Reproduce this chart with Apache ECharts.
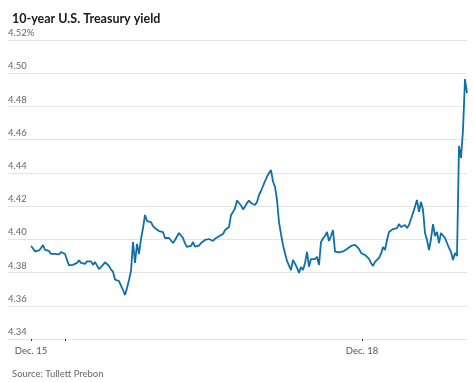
<!DOCTYPE html>
<html><head><meta charset="utf-8">
<script src="https://cdn.jsdelivr.net/npm/echarts@6/dist/echarts.min.js"></script>
<style>html,body{margin:0;padding:0;background:#fff}#c{width:474px;height:382px}</style>
</head><body><div id="c"></div>
<script>
const titleText = '10-year U.S. Treasury yield';
const sourceText = 'Source: Tullett Prebon';

// 10-year yield, evenly spaced intraday readings (Dec. 15 -> Dec. 19)
const yieldValues = [
  4.396, 4.3945, 4.3927, 4.3939, 4.3933, 4.3948, 4.3966, 4.3936, 4.3942, 4.393,
  4.3912, 4.3916, 4.3912, 4.3912, 4.3909, 4.3924, 4.3936, 4.3912, 4.3876, 4.3843,
  4.3852, 4.3846, 4.3855, 4.3858, 4.3873, 4.3858, 4.3866, 4.3852, 4.3867, 4.3876,
  4.3867, 4.3846, 4.3864, 4.3861, 4.3821, 4.3824, 4.3846, 4.3862, 4.3861, 4.384,
  4.3818, 4.3805, 4.3758, 4.3758, 4.3749, 4.3722, 4.3695, 4.3665, 4.3707, 4.3755,
  4.3809, 4.3984, 4.3858, 4.3972, 4.3912, 4.4002, 4.4068, 4.4147, 4.411, 4.4104,
  4.4104, 4.408, 4.4067, 4.4056, 4.405, 4.4044, 4.4044, 4.4008, 4.402, 4.4008,
  4.3996, 4.3978, 4.3996, 4.399, 4.4038, 4.4038, 4.4008, 4.3976, 4.3954, 4.3942,
  4.396, 4.3984, 4.3956, 4.395, 4.3962, 4.3978, 4.3978, 4.3996, 4.399, 4.4002,
  4.4014, 4.399, 4.4004, 4.4014, 4.4018, 4.4026, 4.4032, 4.4056, 4.405, 4.4074,
  4.4147, 4.4165, 4.4187, 4.4234, 4.4231, 4.4204, 4.418, 4.4197, 4.4219, 4.4233,
  4.4219, 4.4225, 4.4207, 4.4225, 4.4267, 4.4291, 4.4321, 4.4317, 4.4378, 4.4381,
  4.4417, 4.4348, 4.4317, 4.4237, 4.4104, 4.4032, 4.3966, 4.3916, 4.387, 4.387,
  4.3815, 4.3876, 4.3876, 4.383, 4.3797, 4.3833, 4.3815, 4.3856, 4.3924, 4.3835,
  4.3881, 4.3885, 4.3881, 4.3895, 4.3846, 4.3984, 4.4006, 4.402, 4.4044, 4.399,
  4.402, 4.4056, 4.3926, 4.3926, 4.3921, 4.3933, 4.3927, 4.3936, 4.3942, 4.3948,
  4.396, 4.396, 4.3966, 4.396, 4.3942, 4.3918, 4.3906, 4.3906, 4.39, 4.3882,
  4.3858, 4.384, 4.3864, 4.3864, 4.3888, 4.3912, 4.3954, 4.3936, 4.3996, 4.4044,
  4.4056, 4.4062, 4.4068, 4.4068, 4.4092, 4.4074, 4.408, 4.4086, 4.4068, 4.4086,
  4.4122, 4.4159, 4.4197, 4.4237, 4.4165, 4.4225, 4.4177, 4.4038, 4.3996, 4.3936,
  4.4002, 4.4092, 4.402, 4.4044, 4.3978, 4.4038, 4.4044, 4.4008, 4.4002, 4.3948,
  4.3924, 4.3876, 4.3918, 4.39, 4.4562, 4.449, 4.4658, 4.4965, 4.488
];

// x-axis ticks (reading index) and labels
const xTickIndex = [0, 17, 165.5];
const xLabelIndex = [0, 165.5];
const xLabelText = ['Dec. 15', 'Dec. 18'];

// y-axis range
const yMin = 4.34, yMax = 4.52, yStep = 0.02;

const chart = echarts.init(document.getElementById('c'), null, {renderer: 'canvas'});
const seriesData = yieldValues.map((v, i) => [i, v]);
const font = 'Lato, "Noto Sans", sans-serif';

chart.setOption({
  animation: false,
  title: [
    {text: titleText, left: 7, top: 7,
     textStyle: {fontFamily: font, fontWeight: 'bold', fontSize: 12.5, color: '#1a1a1a'}},
    {text: sourceText, left: 7, top: 364,
     textStyle: {fontFamily: font, fontWeight: 'normal', fontSize: 9.5, color: '#666'}}
  ],
  grid: {left: 8, right: 7, top: 40, bottom: 43},
  xAxis: {
    type: 'value', min: -11.5, max: yieldValues.length - 1,
    axisLine: {show: false}, splitLine: {show: false},
    axisTick: {show: true, customValues: xTickIndex, length: 2, lineStyle: {color: '#333', width: 1}},
    axisLabel: {customValues: xLabelIndex,
      formatter: v => { const k = xLabelIndex.findIndex(x => Math.abs(x - v) < 1e-6); return k >= 0 ? xLabelText[k] : ''; },
      margin: 7, color: '#555', fontSize: 9.5, fontFamily: font}
  },
  yAxis: {
    type: 'value', min: yMin, max: yMax, interval: yStep,
    axisLine: {show: false}, axisTick: {show: false},
    splitLine: {lineStyle: {color: '#e4e4e4', width: 1}},
    axisLabel: {inside: true, margin: 0, verticalAlign: 'bottom', padding: [0, 0, 2, 0],
      color: '#666', fontSize: 9.5, fontFamily: font,
      formatter: v => Math.abs(v - yMax) < 1e-9 ? v.toFixed(2) + '%' : v.toFixed(2)}
  },
  series: [{
    type: 'line', data: seriesData, showSymbol: false, smooth: false,
    lineStyle: {color: '#0f6fa8', width: 1.8}
  }]
});
</script>
</body></html>
